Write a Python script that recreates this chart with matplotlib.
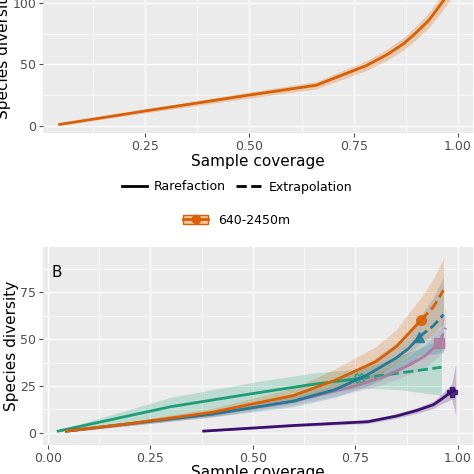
import matplotlib
matplotlib.use("Agg")
import matplotlib.pyplot as plt
from matplotlib.lines import Line2D
from matplotlib.patches import Patch
import numpy as np

# Panel A data
a_x = [0.045, 0.25, 0.5, 0.66, 0.72, 0.78, 0.83, 0.87, 0.9, 0.93, 0.95, 0.965, 0.98]
a_y = [1, 12, 25, 33, 41, 49, 58, 67, 76, 86, 95, 102, 110]
a_ci = [0.5, 1.5, 2.5, 3, 3.5, 4, 4.5, 5, 5.5, 6, 6.5, 7, 8]

# Panel B data: (color, marker, rare_x, rare_y, rare_ci, ext_x, ext_y, ext_ci)
b_series = [
    ("#1B9E77", "X", [0.025, 0.3, 0.5, 0.65, 0.76], [1, 14, 21, 26, 29], [0.5, 5, 6, 6, 5],
     [0.76, 0.86, 0.96], [29, 32, 35], [5, 9, 15]),
    ("#B07AA1", "s", [0.045, 0.4, 0.6, 0.75, 0.82, 0.88, 0.92, 0.955], [1, 10, 17, 25, 30, 36, 41, 48], [0.5, 1.5, 2, 3, 4, 5, 6, 7],
     [0.955, 0.97], [48, 56], [7, 11]),
    ("#1F7A9E", "^", [0.045, 0.4, 0.6, 0.7, 0.78, 0.85, 0.88, 0.905], [1, 10, 17, 23, 31, 40, 45, 51], [0.5, 1.5, 3, 4, 6, 8, 9, 10],
     [0.905, 0.94, 0.965], [51, 57, 63], [10, 15, 20]),
    ("#D95F02", "o", [0.045, 0.2, 0.4, 0.6, 0.7, 0.8, 0.85, 0.88, 0.91], [1, 5, 11, 20, 28, 38, 46, 53, 60], [0.5, 1, 2, 4, 6, 8, 9, 11, 12],
     [0.91, 0.94, 0.965], [60, 67, 76], [12, 15, 17]),
    ("#3B0F70", "P", [0.38, 0.6, 0.78, 0.85, 0.9, 0.94, 0.96, 0.985], [1, 4, 6, 9, 12, 15, 18, 22], [0.3, 0.6, 1, 1.2, 1.5, 2, 2.5, 4],
     [0.985, 0.995], [22, 23], [4, 14]),
]

fig = plt.figure(figsize=(4.74, 4.74), dpi=100)
W = H = 474.0
def pos(l, t, r, b):
    return [l / W, 1 - b / H, (r - l) / W, (b - t) / H]

bg = "#EBEBEB"
def style(ax):
    ax.set_facecolor(bg)
    ax.grid(True, which="major", color="white", lw=1.0)
    ax.grid(True, which="minor", color="white", lw=0.5)
    ax.set_axisbelow(True)
    for s in ax.spines.values():
        s.set_visible(False)
    ax.tick_params(colors="#4D4D4D", labelsize=9, length=3, which="major", pad=2)
    ax.tick_params(which="minor", length=0)

# Panel A
axA = fig.add_axes(pos(43, -25, 473, 133))
style(axA)
axA.fill_between(a_x, np.array(a_y) - a_ci, np.array(a_y) + a_ci, color="#D95F02", alpha=0.25, lw=0)
axA.plot(a_x, a_y, color="#D95F02", lw=2)
axA.set_xlim(0.005, 1.036)
axA.set_ylim(-6, 123)
axA.set_xticks([0.25, 0.5, 0.75, 1.0])
axA.set_xticklabels(["0.25", "0.50", "0.75", "1.00"])
axA.set_xticks([0.125, 0.375, 0.625, 0.875], minor=True)
axA.set_yticks([0, 50, 100])
axA.set_yticks([25, 75], minor=True)
axA.set_xlabel("Sample coverage", fontsize=11, labelpad=1)
axA.set_ylabel("Species diversity", fontsize=11, labelpad=1)

# Legends between panels
h1 = [Line2D([], [], color="black", lw=2, ls="-"), Line2D([], [], color="black", lw=2, ls="--")]
fig.legend(h1, ["Rarefaction", "Extrapolation"], loc="center", bbox_to_anchor=(0.5, 1 - 187 / H),
           ncol=2, frameon=False, fontsize=9, handlelength=2, columnspacing=0.8, handletextpad=0.6)
h2 = [(Patch(facecolor="#F4C7A1", edgecolor="#D95F02"),
       Line2D([], [], color="#D95F02", lw=2, marker="o", ms=6))]
fig.legend(h2, ["640-2450m"], loc="center", bbox_to_anchor=(0.5, 1 - 220 / H),
           frameon=False, fontsize=9, handlelength=2)

# Panel B
axB = fig.add_axes(pos(43, 247, 473, 445))
style(axB)
for col, mk, rx, ry, rc, ex, ey, ec in b_series:
    axB.fill_between(rx, np.array(ry) - rc, np.array(ry) + rc, color=col, alpha=0.22, lw=0)
    axB.fill_between(ex, np.array(ey) - ec, np.array(ey) + ec, color=col, alpha=0.22, lw=0)
    axB.plot(rx, ry, color=col, lw=2)
    axB.plot(ex, ey, color=col, lw=2, ls="--")
    axB.plot([rx[-1]], [ry[-1]], color=col, marker=mk, ms=7, ls="none",
             mfc=col if mk not in ("X",) else "none", alpha=0.85)
axB.set_xlim(-0.012, 1.037)
axB.set_ylim(-6.4, 99)
axB.set_xticks([0, 0.25, 0.5, 0.75, 1.0])
axB.set_xticklabels(["0.00", "0.25", "0.50", "0.75", "1.00"])
axB.set_xticks([0.125, 0.375, 0.625, 0.875], minor=True)
axB.set_yticks([0, 25, 50, 75])
axB.set_yticks([12.5, 37.5, 62.5, 87.5], minor=True)
axB.set_xlabel("Sample coverage", fontsize=11, labelpad=0)
axB.set_ylabel("Species diversity", fontsize=11, labelpad=1)
axB.text(0.02, 0.85, "B", transform=axB.transAxes, fontsize=11)

fig.savefig("out.png", dpi=100, facecolor="white")
